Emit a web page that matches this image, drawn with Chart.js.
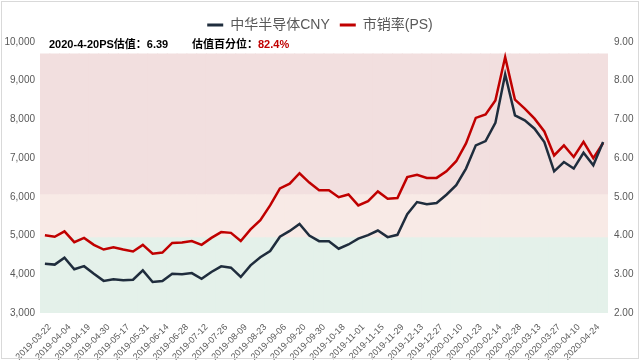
<!DOCTYPE html>
<html>
<head>
<meta charset="utf-8">
<script src="https://cdn.jsdelivr.net/npm/chart.js@4.4.0/dist/chart.umd.min.js"></script>
<style>
html, body { margin:0; padding:0; background:#fff; }
#wrap { position:relative; width:640px; height:361px; }
#frame { position:absolute; left:1px; top:1px; right:1px; bottom:2px; border:1px solid #d9d9d9; box-sizing:border-box; pointer-events:none; }
.note { position:absolute; top:37px; font:bold 11px 'Liberation Sans','Noto Sans CJK SC',sans-serif; color:#000; white-space:nowrap; line-height:14px; }
.note .pct { color:#c00000; }
</style>
</head>
<body>
<div id="wrap">
  <canvas id="chart"></canvas>
  <div class="note" style="left:49px">2020-4-20PS估值：6.39</div>
  <div class="note" style="left:192px">估值百分位：<span class="pct">82.4%</span></div>
  <div id="frame"></div>
</div>
<script>
// 中华半导体 CNY vs PS — weekly, tick label every other week

const tickLabels = ['2019-03-22','2019-04-04','2019-04-19','2019-04-30','2019-05-17','2019-05-31',
  '2019-06-14','2019-06-28','2019-07-12','2019-07-26','2019-08-09','2019-08-23','2019-09-06',
  '2019-09-20','2019-09-30','2019-10-18','2019-11-01','2019-11-15','2019-11-29','2019-12-13',
  '2019-12-27','2020-01-10','2020-01-23','2020-02-14','2020-02-28','2020-03-13','2020-03-27',
  '2020-04-10','2020-04-24'];

const cnyIndex = [4270,4250,4430,4130,4210,4015,3830,3870,3845,3860,
  4100,3800,3825,4015,4000,4030,3885,4060,4205,4170,
  3930,4230,4440,4600,4970,5120,5300,5000,4855,4855,
  4660,4770,4920,5010,5130,4960,5020,5550,5865,5810,
  5840,6055,6300,6730,7330,7440,7910,9165,8105,7975,
  7760,7415,6660,6900,6730,7140,6815,7415];

const psRatio = [4.01,3.97,4.11,3.83,3.94,3.76,3.64,3.70,3.64,3.59,
  3.76,3.53,3.56,3.81,3.82,3.86,3.76,3.94,4.09,4.07,
  3.86,4.16,4.40,4.78,5.22,5.34,5.61,5.37,5.17,5.17,
  4.99,5.06,4.78,4.89,5.14,4.95,4.97,5.51,5.57,5.49,
  5.49,5.66,5.92,6.38,7.04,7.13,7.49,8.61,7.51,7.28,
  7.02,6.69,6.07,6.33,6.03,6.42,6.00,6.39];

// PS valuation bands (right axis): low / mid / high
const bandLevels = [2, 3.94, 5.05, 8.69];

const categories = cnyIndex.map((v, i) => i % 2 === 0 ? tickLabels[i / 2] : '');

const C = {
    navy:'#1f2d3d', red:'#c00000', text:'#595959',
    low:'#e4f1ea', mid:'#f8eae6', high:'#f2dfdf'
};
const FONT = "'Liberation Sans','Noto Sans CJK SC',sans-serif";

function bandDS(lo, hi, color) {
    return {type:'bar', data:categories.map(() => [lo, hi]), yAxisID:'y1', backgroundColor:color,
        borderWidth:0, grouped:false, barPercentage:1, categoryPercentage:1, inflateAmount:0.6};
}

function lineDS(label, data, color, axis) {
    return {type:'line', label, data, yAxisID:axis, borderColor:color, backgroundColor:color,
        borderWidth:2.5, pointRadius:0, tension:0, fill:false};
}

new Chart(document.getElementById('chart'), {
    type:'bar',
    data:{labels:categories, datasets:[
        lineDS('中华半导体CNY', cnyIndex, C.navy, 'y'),
        lineDS('市销率(PS)', psRatio, C.red, 'y1'),
        bandDS(bandLevels[0], bandLevels[1], C.low),
        bandDS(bandLevels[1], bandLevels[2], C.mid),
        bandDS(bandLevels[2], bandLevels[3], C.high)
    ]},
    options:{
        responsive:true, maintainAspectRatio:false, animation:false,
        layout:{padding:{top:8, left:0, right:0, bottom:0}},
        plugins:{
            tooltip:{enabled:false},
            legend:{position:'top', labels:{
                color:C.text, font:{family:FONT, size:14}, boxWidth:16, boxHeight:3, padding:10,
                generateLabels:ch => Chart.defaults.plugins.legend.labels.generateLabels(ch).map(l => ({...l, lineWidth:0})),
                filter:item => item.datasetIndex < 2
            }}
        },
        scales:{
            x:{
                grid:{display:false, drawTicks:false}, border:{display:false},
                ticks:{autoSkip:false, maxRotation:45, minRotation:45, color:C.text, font:{family:FONT, size:9},
                    padding:9, labelOffset:5},
                afterFit:s => { s.height = 48; }
            },
            y:{
                position:'left', min:3000, max:10000,
                grid:{display:false, drawTicks:false}, border:{display:false},
                ticks:{stepSize:1000, color:C.text, font:{family:FONT, size:10}, padding:5,
                    callback:v => v.toLocaleString('en-US')},
                afterFit:s => { s.width = 40; }
            },
            y1:{
                position:'right', min:2, max:9,
                grid:{display:false, drawTicks:false}, border:{display:false},
                ticks:{stepSize:1, color:C.text, font:{family:FONT, size:10}, padding:6,
                    callback:v => v.toFixed(2)},
                afterFit:s => { s.width = 32; }
            }
        }
    }
});
</script>
</body>
</html>
